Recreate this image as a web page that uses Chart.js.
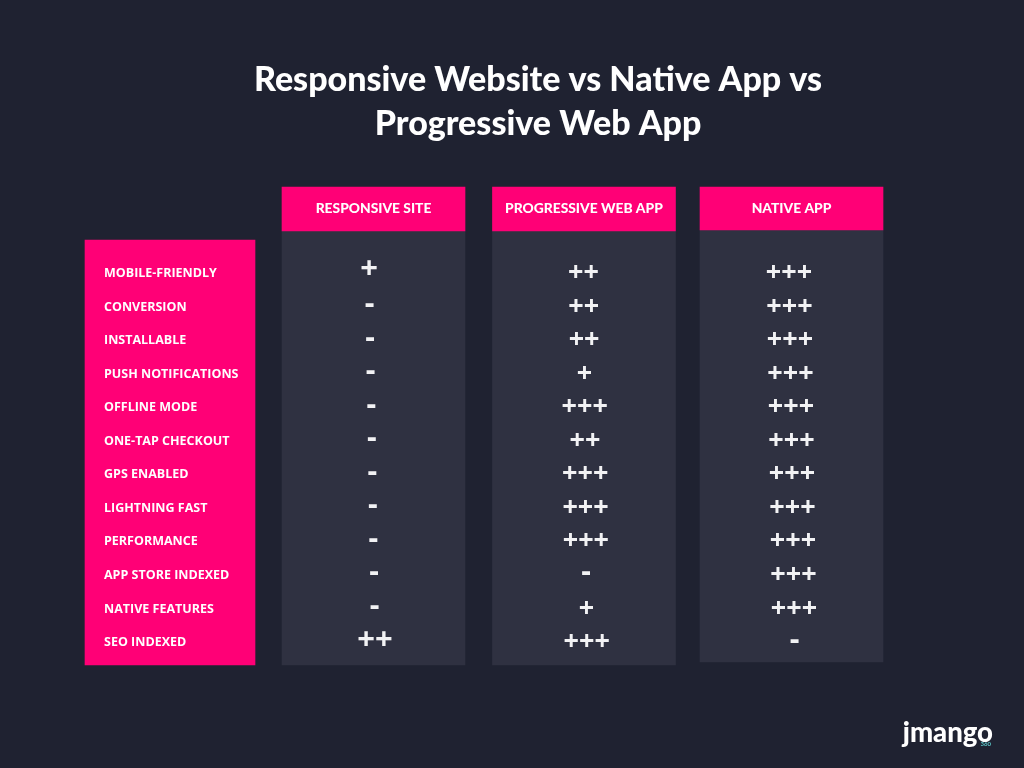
<!DOCTYPE html>
<html>
<head>
<meta charset="utf-8">
<title>Responsive Website vs Native App vs Progressive Web App</title>
<script src="https://cdn.jsdelivr.net/npm/chart.js@4"></script>
<style>
  html, body { margin: 0; background: #1f2231; }
  canvas { display: block; }
</style>
</head>
<body>
<canvas id="chart" width="1024" height="768"></canvas>
<script>
const titleLines = ['Responsive Website vs Native App vs', 'Progressive Web App'];
const columnNames = ['RESPONSIVE SITE', 'PROGRESSIVE WEB APP', 'NATIVE APP'];
const rowNames = [
  'MOBILE-FRIENDLY', 'CONVERSION', 'INSTALLABLE', 'PUSH NOTIFICATIONS',
  'OFFLINE MODE', 'ONE-TAP CHECKOUT', 'GPS ENABLED', 'LIGHTNING FAST',
  'PERFORMANCE', 'APP STORE INDEXED', 'NATIVE FEATURES', 'SEO INDEXED'
];
const responsiveSite = ['+', '-', '-', '-', '-', '-', '-', '-', '-', '-', '-', '++'];
const progressiveWebApp = ['++', '++', '++', '+', '+++', '++', '+++', '+++', '+++', '-', '+', '+++'];
const nativeApp = ['+++', '+++', '+++', '+++', '+++', '+++', '+++', '+++', '+++', '+++', '+++', '-'];

// table geometry, in column / row units of the two axes
const columnAt = [1, 2.007, 3];
const labelColumnAt = 0.0263;
const rowTop = -1.2668;
const rowBottom = 11.669;
const headerStart = -2.578;
const headerEnd = [rowTop, rowTop, -1.2966];
const panelEnd = [rowBottom, rowBottom, 11.58];
const labelPanelStart = -0.9985;

const PINK = '#ff0076';
const PANEL = '#2f3141';
const WHITE = '#ffffff';
const scores = [responsiveSite, progressiveWebApp, nativeApp];
// the marks lean slightly to the right going down each column: [start px, px per row]
const lean = [[-4.5, 0.55], [-0.5, 0.3], [-2.5, 0.5]];

const cellText = {
  id: 'cellText',
  afterDatasetsDraw(chart) {
    const { ctx, scales: { x, y } } = chart;
    ctx.save();
    ctx.fillStyle = '#f2f2f4';
    ctx.textAlign = 'center';
    ctx.textBaseline = 'alphabetic';
    scores.forEach((col, c) => {
      col.forEach((mark, r) => {
        const minus = mark === '-';
        const big = c === 0 && !minus;
        ctx.font = `bold ${big ? 31 : minus ? 30 : 27}px "Open Sans"`;
        const m = ctx.measureText(mark);
        const px = x.getPixelForValue(columnAt[c]) + lean[c][0] + lean[c][1] * r;
        // the larger plus signs of the first column sit higher in their row
        const lift = big ? (mark.length > 1 ? 4 : 6) : minus ? 2 : 2.5;
        const py = y.getPixelForValue(r) - lift;
        ctx.fillText(mark, px, py + (m.actualBoundingBoxAscent - m.actualBoundingBoxDescent) / 2);
      });
    });
    ctx.restore();
  }
};

const logo = {
  id: 'logo',
  afterDraw(chart) {
    const { ctx } = chart;
    ctx.save();
    ctx.textAlign = 'right';
    ctx.textBaseline = 'alphabetic';
    ctx.fillStyle = WHITE;
    ctx.font = '900 27.5px Lato';
    ctx.fillText('jmango', 993, 742);
    ctx.fillStyle = '#5cc6c8';
    ctx.font = 'bold 6px Lato';
    ctx.fillText('360', 991, 746);
    ctx.restore();
  }
};

new Chart(document.getElementById('chart').getContext('2d'), {
  type: 'bar',
  data: {
    datasets: [
      {
        label: 'Headers',
        data: columnAt.map((x, i) => ({ x, y: [headerStart, headerEnd[i]] })),
        backgroundColor: PINK,
        barThickness: 183,
        clip: false
      },
      {
        label: 'Panels',
        data: columnAt.map((x, i) => ({ x, y: [headerEnd[i], panelEnd[i]] })),
        backgroundColor: PANEL,
        barThickness: 183,
        clip: false
      },
      {
        label: 'Row labels',
        data: [{ x: labelColumnAt, y: [labelPanelStart, rowBottom] }],
        backgroundColor: PINK,
        barThickness: 170,
        clip: false
      }
    ]
  },
  plugins: [cellText, logo],
  options: {
    responsive: false,
    animation: false,
    events: [],
    grouped: false,
    layout: { padding: { left: 85, right: 33, bottom: 103, top: 0 } },
    scales: {
      x: {
        type: 'linear',
        position: 'top',
        offset: false,
        min: -0.3804,
        max: 3.9545,
        border: { display: false },
        grid: { display: false, drawTicks: false },
        afterFit: s => { s.height = 44; },
        afterBuildTicks: s => { s.ticks = columnAt.map(value => ({ value })); },
        ticks: {
          z: 1,
          color: WHITE,
          padding: 14.5,
          autoSkip: false,
          maxRotation: 0,
          minRotation: 0,
          font: { family: 'Lato', weight: '900', size: 13.8 },
          callback: (v, i) => columnNames[i]
        }
      },
      y: {
        type: 'linear',
        reverse: true,
        min: rowTop,
        max: rowBottom,
        border: { display: false },
        grid: { display: false, drawTicks: false },
        afterFit: s => { s.width = 0; },
        afterBuildTicks: s => { s.ticks = rowNames.map((_, value) => ({ value })); },
        ticks: {
          z: 1,
          mirror: true,
          color: WHITE,
          padding: 19,
          autoSkip: false,
          font: { family: 'Open Sans', weight: 'bold', size: 12.5 },
          callback: (v, i) => rowNames[i]
        }
      }
    },
    plugins: {
      legend: { display: false },
      tooltip: { enabled: false },
      title: {
        display: true,
        fullSize: false,
        text: titleLines,
        color: WHITE,
        font: { family: 'Lato', weight: '900', size: 34, lineHeight: 1.294 },
        padding: { top: 58, bottom: 41 }
      }
    }
  }
});
</script>
</body>
</html>
